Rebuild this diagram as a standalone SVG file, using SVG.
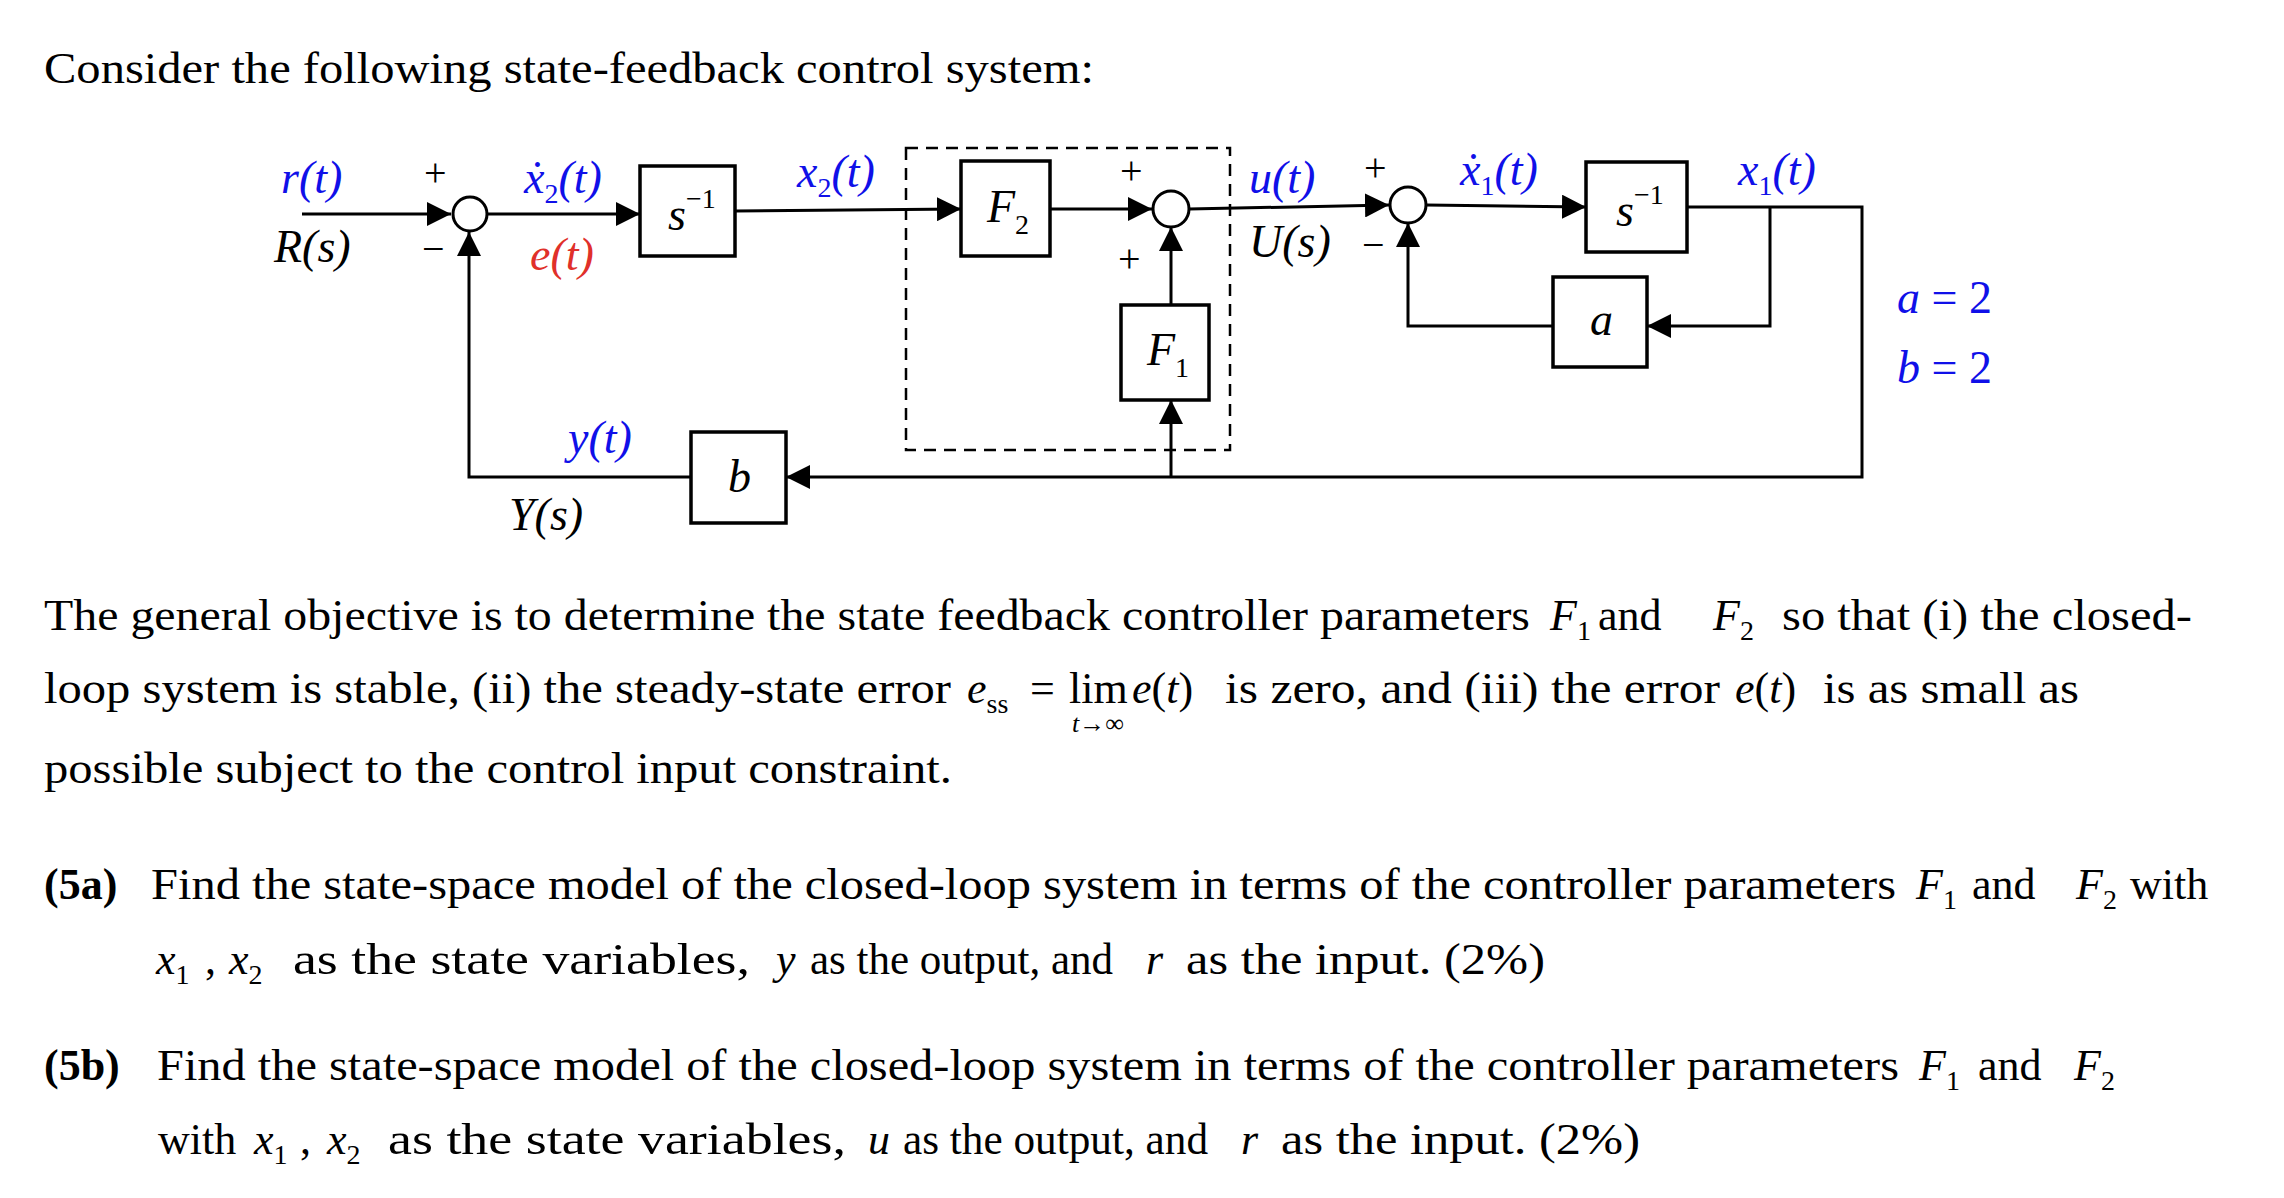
<svg xmlns="http://www.w3.org/2000/svg" width="2284" height="1198" viewBox="0 0 2284 1198">
<style>
text{font-family:"Liberation Serif","Times New Roman",serif;fill:#000}
.t{font-size:44px}
.i{font-style:italic}
.b{font-weight:bold}
.lab{font-size:46px;font-style:italic}
.blue{fill:#1010e8}
.red{fill:#e0302a}
.sub{font-size:28px;font-style:normal}
.box{fill:#fff;stroke:#000;stroke-width:3.5}
.sum{fill:#fff;stroke:#000;stroke-width:3}
.ln{fill:none;stroke:#000;stroke-width:3}
.dash{fill:none;stroke:#000;stroke-width:2.5;stroke-dasharray:12 8}
</style>
<defs>
<marker id="ah" markerUnits="userSpaceOnUse" markerWidth="26" markerHeight="24" refX="24" refY="12" orient="auto">
<path d="M0,0 L24,12 L0,24 Z" fill="#000"/>
</marker>
</defs>
<rect width="2284" height="1198" fill="#fff"/>

<text class="t" x="44" y="83" textLength="1050" lengthAdjust="spacingAndGlyphs">Consider the following state-feedback control system:</text>

<g id="dashed-region"><rect class="dash" x="906" y="148" width="324" height="302"/></g>

<g id="connectors">
<line class="ln" x1="302" y1="214" x2="451" y2="214" marker-end="url(#ah)"/>
<line class="ln" x1="487" y1="214" x2="640" y2="214" marker-end="url(#ah)"/>
<line class="ln" x1="735" y1="211" x2="961" y2="209" marker-end="url(#ah)"/>
<line class="ln" x1="1050" y1="209" x2="1152" y2="209" marker-end="url(#ah)"/>
<line class="ln" x1="1189" y1="209" x2="1389" y2="205" marker-end="url(#ah)"/>
<line class="ln" x1="1426" y1="205" x2="1586" y2="207" marker-end="url(#ah)"/>
<polyline class="ln" points="1687,207 1862,207 1862,477 786,477" marker-end="url(#ah)"/>
<polyline class="ln" points="1770,207 1770,326 1647,326" marker-end="url(#ah)"/>
<polyline class="ln" points="1553,326 1408,326 1408,223" marker-end="url(#ah)"/>
<polyline class="ln" points="691,477 469,477 469,232" marker-end="url(#ah)"/>
<line class="ln" x1="1171" y1="305" x2="1171" y2="227" marker-end="url(#ah)"/>
<line class="ln" x1="1171" y1="477" x2="1171" y2="400" marker-end="url(#ah)"/>
</g>

<g id="sum1"><circle class="sum" cx="470" cy="214" r="17"/></g>
<g id="sum2"><circle class="sum" cx="1171" cy="209" r="18"/></g>
<g id="sum3"><circle class="sum" cx="1408" cy="205" r="18"/></g>

<g id="integrator2"><rect class="box" x="640" y="166" width="95" height="90"/>
<text class="lab" x="668" y="230">s<tspan font-size="28" font-style="normal" dy="-22">−1</tspan></text></g>
<g id="F2"><rect class="box" x="961" y="161" width="89" height="95"/>
<text class="lab" x="987" y="222">F<tspan class="sub" dy="12">2</tspan></text></g>
<g id="F1"><rect class="box" x="1121" y="305" width="88" height="95"/>
<text class="lab" x="1147" y="365">F<tspan class="sub" dy="12">1</tspan></text></g>
<g id="integrator1"><rect class="box" x="1586" y="162" width="101" height="90"/>
<text class="lab" x="1616" y="226">s<tspan font-size="28" font-style="normal" dy="-22">−1</tspan></text></g>
<g id="a"><rect class="box" x="1553" y="277" width="94" height="90"/>
<text class="lab" x="1590" y="335">a</text></g>
<g id="b"><rect class="box" x="691" y="432" width="95" height="91"/>
<text class="lab" x="728" y="492">b</text></g>

<g id="labels">
<text class="lab blue" x="281" y="193">r(t)</text>
<text class="lab" x="274" y="262">R(s)</text>
<text x="424" y="186" font-size="40">+</text>
<text x="422" y="262" font-size="40">−</text>
<text class="lab blue" x="524" y="193">ẋ<tspan class="sub" dy="10">2</tspan><tspan dy="-10">(t)</tspan></text>
<text class="lab red" x="530" y="270">e(t)</text>
<text class="lab blue" x="797" y="187">x<tspan class="sub" dy="10">2</tspan><tspan dy="-10">(t)</tspan></text>
<text x="1120" y="184" font-size="40">+</text>
<text x="1118" y="272" font-size="40">+</text>
<text class="lab blue" x="1249" y="193">u(t)</text>
<text class="lab" x="1249" y="257">U(s)</text>
<text x="1364" y="181" font-size="40">+</text>
<text x="1362" y="258" font-size="40">−</text>
<text class="lab blue" x="1460" y="185">ẋ<tspan class="sub" dy="10">1</tspan><tspan dy="-10">(t)</tspan></text>
<text class="lab blue" x="1738" y="185">x<tspan class="sub" dy="10">1</tspan><tspan dy="-10">(t)</tspan></text>
<text class="lab blue" x="568" y="453">y(t)</text>
<text class="lab" x="509" y="530">Y(s)</text>
<text class="lab blue" x="1897" y="313">a<tspan font-style="normal"> = 2</tspan></text>
<text class="lab blue" x="1897" y="383">b<tspan font-style="normal"> = 2</tspan></text>
</g>

<g id="body">
<text class="t" x="44" y="630" textLength="1486" lengthAdjust="spacingAndGlyphs">The general objective is to determine the state feedback controller parameters</text>
<text class="t i" x="1550" y="630">F<tspan class="sub" dy="10">1</tspan></text>
<text class="t" x="1598" y="630">and</text>
<text class="t i" x="1713" y="630">F<tspan class="sub" dy="10">2</tspan></text>
<text class="t" x="1782" y="630" textLength="410" lengthAdjust="spacingAndGlyphs">so that (i) the closed-</text>

<text class="t" x="44" y="703" textLength="907" lengthAdjust="spacingAndGlyphs">loop system is stable, (ii) the steady-state error</text>
<text class="t i" x="967" y="703">e<tspan class="sub" font-style="italic" dy="10">ss</tspan></text>
<text class="t" x="1030" y="703">=</text>
<text class="t" x="1069" y="703">lim</text>
<text x="1072" y="732" font-size="26" font-style="italic">t<tspan font-style="normal">→∞</tspan></text>
<text class="t i" x="1132" y="703">e<tspan font-style="normal">(</tspan>t<tspan font-style="normal">)</tspan></text>
<text class="t" x="1225" y="703" textLength="495" lengthAdjust="spacingAndGlyphs">is zero, and (iii) the error</text>
<text class="t i" x="1735" y="703">e<tspan font-style="normal">(</tspan>t<tspan font-style="normal">)</tspan></text>
<text class="t" x="1823" y="703" textLength="256" lengthAdjust="spacingAndGlyphs">is as small as</text>

<text class="t" x="44" y="783" textLength="908" lengthAdjust="spacingAndGlyphs">possible subject to the control input constraint.</text>

<text class="t b" x="44" y="899">(5a)</text>
<text class="t" x="151" y="899" textLength="1745" lengthAdjust="spacingAndGlyphs">Find the state-space model of the closed-loop system in terms of the controller parameters</text>
<text class="t i" x="1916" y="899">F<tspan class="sub" dy="10">1</tspan></text>
<text class="t" x="1972" y="899">and</text>
<text class="t i" x="2076" y="899">F<tspan class="sub" dy="10">2</tspan></text>
<text class="t" x="2130" y="899">with</text>

<text class="t i" x="156" y="974">x<tspan class="sub" dy="10">1</tspan></text>
<text class="t" x="205" y="974">,</text>
<text class="t i" x="229" y="974">x<tspan class="sub" dy="10">2</tspan></text>
<text class="t" x="293" y="974" textLength="457" lengthAdjust="spacingAndGlyphs">as the state variables,</text>
<text class="t i" x="776" y="974">y</text>
<text class="t" x="810" y="974" textLength="303" lengthAdjust="spacingAndGlyphs">as the output, and</text>
<text class="t i" x="1146" y="974">r</text>
<text class="t" x="1186" y="974" textLength="359" lengthAdjust="spacingAndGlyphs">as the input.  (2%)</text>

<text class="t b" x="44" y="1080">(5b)</text>
<text class="t" x="157" y="1080" textLength="1742" lengthAdjust="spacingAndGlyphs">Find the state-space model of the closed-loop system in terms of the controller parameters</text>
<text class="t i" x="1919" y="1080">F<tspan class="sub" dy="10">1</tspan></text>
<text class="t" x="1978" y="1080">and</text>
<text class="t i" x="2074" y="1080">F<tspan class="sub" dy="10">2</tspan></text>

<text class="t" x="158" y="1154">with</text>
<text class="t i" x="254" y="1154">x<tspan class="sub" dy="10">1</tspan></text>
<text class="t" x="300" y="1154">,</text>
<text class="t i" x="327" y="1154">x<tspan class="sub" dy="10">2</tspan></text>
<text class="t" x="388" y="1154" textLength="458" lengthAdjust="spacingAndGlyphs">as the state variables,</text>
<text class="t i" x="868" y="1154">u</text>
<text class="t" x="903" y="1154" textLength="305" lengthAdjust="spacingAndGlyphs">as the output, and</text>
<text class="t i" x="1241" y="1154">r</text>
<text class="t" x="1281" y="1154" textLength="359" lengthAdjust="spacingAndGlyphs">as the input.  (2%)</text>
</g>
</svg>
